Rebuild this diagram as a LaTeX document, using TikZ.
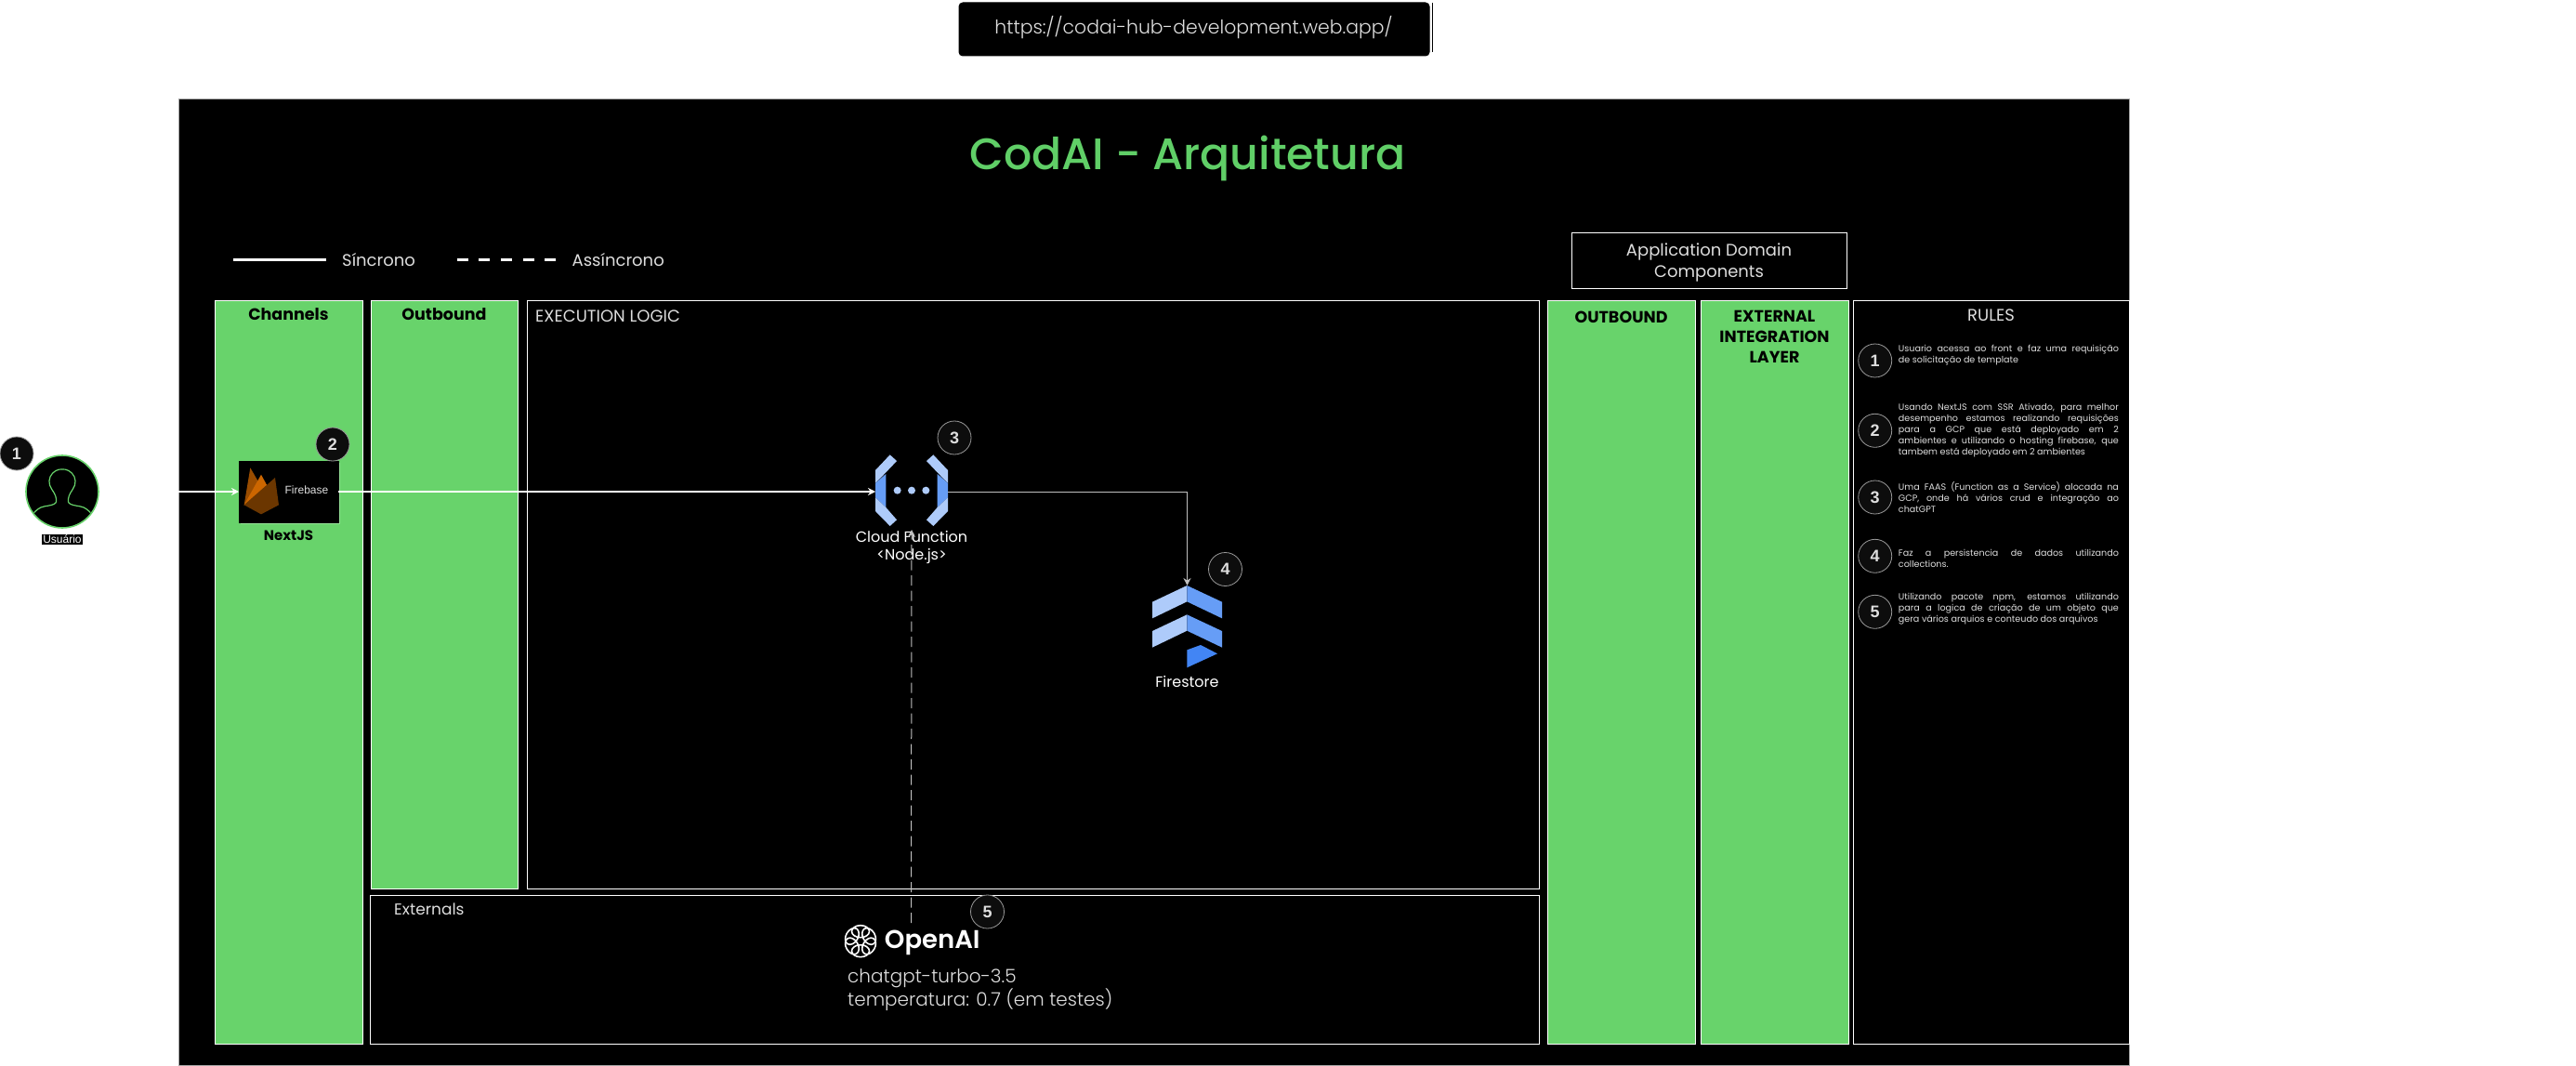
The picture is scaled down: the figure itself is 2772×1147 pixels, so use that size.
\documentclass[tikz,border=0pt]{standalone}
\usepackage{fontspec}
\setmainfont{Poppins}
\newfontfamily\poplight{Poppins Light}
\newfontfamily\popmed{Poppins Medium}
\newfontfamily\popsemi{Poppins SemiBold}
\newfontfamily\arialfont{Liberation Sans}
\usetikzlibrary{arrows.meta, positioning}
\definecolor{codgreen}{RGB}{104,211,107}
\definecolor{titlegreen}{RGB}{96,207,103}
\definecolor{softwhite}{RGB}{222,222,222}
\definecolor{badgefill}{RGB}{13,13,13}
\definecolor{gcplight}{RGB}{174,203,250}
\definecolor{gcpmid}{RGB}{102,157,246}
\definecolor{gcpdark}{RGB}{66,133,244}

\begin{document}
\begin{tikzpicture}[
    x=1pt, y=-1pt,
    % Styles
    greencol/.style={draw=white, line width=1pt, fill=codgreen, minimum width=#1, inner sep=0pt, outer sep=0pt, anchor=north west},
    blackbox/.style={draw=white, line width=1pt, fill=black, inner sep=0pt, outer sep=0pt, anchor=north west},
    collabel/.style={font=\fontsize{17.5}{22}\selectfont\bfseries, text=black, align=center, inner sep=0pt},
    boxlabel/.style={font=\fontsize{18}{23}\selectfont, text=softwhite, align=center, inner sep=0pt},
    badge/.style={circle, draw=gray!80, line width=0.8pt, fill=badgefill, minimum size=36pt, inner sep=0pt, text=softwhite, font=\arialfont\fontsize{18}{18}\selectfont\bfseries},
    rulenote/.style={font=\fontsize{9.6}{12}\selectfont, text=softwhite, text width=237pt, align=justify, inner sep=0pt},
    iconlabel/.style={font=\fontsize{16}{18.7}\selectfont, text=white, align=center, inner sep=0pt},
    legendlabel/.style={font=\fontsize{18}{20}\selectfont, text=softwhite, inner sep=0pt},
    flow/.style={draw=white, line width=1.2pt, -{Stealth[length=8pt, width=8pt]}},
    legendline/.style={draw=white, line width=3.5pt},
    icon/.style={inner sep=0pt, outer sep=0pt, minimum width=#1},
    zoomed/.style={x=0.33333pt, y=-0.33333pt}
]
    \useasboundingbox (0,0) rectangle (2772,1147);

    % Url bar and main panel
    \node[blackbox, draw=black, rounded corners=4pt, minimum width=506pt, minimum height=57pt] (urlbar) at (1032,3) {};
    \draw[black, line width=0.8pt] (1541.5,3) -- (1541.5,56);
    \node[font=\poplight\fontsize{20.4}{24}\selectfont, text=softwhite, inner sep=0pt] (urltext) at (1284.5,30) {https://codai-hub-development.web.app/};
    \node[blackbox, draw=gray!70, line width=0.6pt, minimum width=2099pt, minimum height=1039.5pt] (panel) at (192,106.5) {};
    \node[font=\popmed\fontsize{47.4}{50}\selectfont, text=titlegreen, inner sep=0pt] (title) at (1278,170) {CodAI - Arquitetura};

    % Legend
    \coordinate (syncstart) at (251,279.5);
    \coordinate[right=100pt of syncstart] (syncend);
    \draw[legendline] (syncstart) -- (syncend);
    \node[legendlabel, right=17pt of syncend] (synctext) {Síncrono};
    \coordinate (asyncstart) at (491.5,279.5);
    \coordinate[right=108pt of asyncstart] (asyncend);
    \draw[legendline, dash pattern=on 12pt off 11.7pt] (asyncstart) -- (asyncend);
    \node[legendlabel, right=16pt of asyncend] (asynctext) {Assíncrono};

    % Columns
    \node[greencol=159pt, minimum height=800pt] (channels) at (231,323.5) {};
    \node[greencol=158pt, minimum height=633pt, right=9pt of channels.north east, anchor=north west] (outbound) {};
    \node[blackbox, minimum width=1089pt, minimum height=633pt, right=10pt of outbound.north east, anchor=north west] (execution) {};
    \node[blackbox, minimum width=1258pt, minimum height=160pt] (externals) at (398,963) {};
    \node[greencol=159pt, minimum height=800pt] (outboundr) at (1665,323.5) {};
    \node[greencol=159pt, minimum height=800pt, right=6pt of outboundr.north east, anchor=north west] (integration) {};
    \node[blackbox, minimum width=297pt, minimum height=800pt, right=5pt of integration.north east, anchor=north west] (rules) {};
    \node[blackbox, minimum width=296pt, minimum height=60pt] (domain) at (1691,251) {};

    % Column titles
    \node[boxlabel, yshift=-1.5pt] (domaintext) at (domain.center) {Application Domain\\Components};
    \node[collabel, below=8pt of channels.north] (channelstext) {Channels};
    \node[collabel, below=8pt of outbound.north] (outboundtext) {Outbound};
    \node[boxlabel, anchor=north west] (executiontext) at (576,334) {EXECUTION LOGIC};
    \node[boxlabel, font=\fontsize{17}{20}\selectfont, anchor=north west] (externalstext) at (424,972) {Externals};
    \node[collabel, below=11pt of outboundr.north] (outboundrtext) {OUTBOUND};
    \node[collabel, below=11pt of integration.north] (integrationtext) {EXTERNAL\\INTEGRATION\\LAYER};
    \node[boxlabel, below=9pt of rules.north] (rulestext) {RULES};

    % User
    \node[circle, draw=codgreen, line width=1.6pt, fill=black, minimum size=78pt, inner sep=0pt] (usuario) at (67,529) {};
    \draw[codgreen, line width=1.2pt] plot[smooth, tension=0.7] coordinates {(36.7,551.7) (44,546) (58,542.5) (60.5,537) (58,530) (53.5,522) (54,513) (60,506.5) (67,505) (74,506.5) (80,513) (80.5,522) (76,530) (73.5,537) (76,542.5) (90,546) (97.3,551.7)};
    \node[font=\arialfont\fontsize{12}{13}\selectfont, text=white, fill=black, inner sep=1pt, below=6pt of usuario] (usuariotext) {Usuário};
    \node[badge] (badge1) at (18,488) {1};

    % Firebase
    \fill[codgreen!70!white] (259,498) rectangle (366,564);
    \node[blackbox, draw=black, minimum width=107pt, minimum height=66pt] (firebase) at (257,496) {};
    \begin{scope}[shift={(0,420)}, zoomed]
        \fill[orange!60!black] (788,370) -- (808,250) -- (860,340) -- cycle;
        \fill[orange!80!black] (788,370) -- (843,272) -- (880,340) -- cycle;
        \fill[orange!42!black] (788,370) -- (888,282) -- (900,370) -- (843,400) -- cycle;
    \end{scope}
    \node[font=\arialfont\fontsize{12}{13}\selectfont, text=softwhite, inner sep=0pt] (firebasetext) at (330,527.7) {Firebase};
    \node[collabel, font=\fontsize{15}{18}\selectfont\bfseries, below=9pt of firebase] (nextjs) {NextJS};
    \node[badge] (badge2) at (358,478) {2};

    % Cloud Function
    \node[icon=78pt, minimum height=82pt] (cloudfn) at (981,529) {};
    \begin{scope}[shift={(880,430)}, zoomed]
        \foreach \sx/\ox in {1/0, -1/606} {
            \fill[gcplight] ({\ox+\sx*233},178) -- ({\ox+\sx*255},198) -- ({\ox+\sx*220},235) -- ({\ox+\sx*186},270) -- ({\ox+\sx*186},228) -- cycle;
            \fill[gcpmid] ({\ox+\sx*220},240) -- ({\ox+\sx*220},348) -- ({\ox+\sx*186},316) -- ({\ox+\sx*186},270) -- cycle;
            \fill[gcplight] ({\ox+\sx*186},316) -- ({\ox+\sx*220},348) -- ({\ox+\sx*255},388) -- ({\ox+\sx*233},408) -- ({\ox+\sx*186},360) -- cycle;
        }
        \foreach \dotx in {257, 303, 349}
            \fill[gcplight] (\dotx,293) circle[radius=4pt];
    \end{scope}
    \node[iconlabel, anchor=north] (cloudtext) at (981,571) {Cloud Function\\<Node.js>};
    \node[badge] (badge3) at (1027,471) {3};

    % Firestore
    \node[icon=75pt, minimum height=88pt] (firestore) at (1277.5,674) {};
    \begin{scope}[shift={(880,430)}, zoomed]
        \foreach \dy in {0, 94} {
            \fill[gcplight] (1080,653+\dy) -- (1192,600+\dy) -- (1192,652+\dy) -- (1080,706+\dy) -- cycle;
            \fill[gcpmid] (1192,600+\dy) -- (1305,653+\dy) -- (1305,706+\dy) -- (1192,652+\dy) -- cycle;
        }
        \fill[gcpdark] (1192,808) -- (1236,792) -- (1290,820) -- (1192,865) -- cycle;
    \end{scope}
    \node[iconlabel, below=9.5pt of firestore] (firestoretext) {Firestore};
    \node[badge] (badge4) at (1318.5,612.5) {4};

    % OpenAI
    \node[icon=38pt, minimum height=38pt] (openai) at (926,1012.7) {};
    \foreach \ang in {0, 60, ..., 300}
        \draw[white, line width=1.6pt, rotate around={\ang:(openai.center)}] (926,1002.2) ellipse[x radius=9.5pt, y radius=6.5pt];
    \node[font=\popsemi\fontsize{27.5}{30}\selectfont, text=white, inner sep=0pt, anchor=west] (openaitext) at (951.7,1014.5) {OpenAI};
    \node[font=\poplight\fontsize{20}{25}\selectfont, text=softwhite, align=left, inner sep=0pt, anchor=north west] (modeltext) at (912,1042.5) {chatgpt-turbo-3.5\\temperatura: 0.7 (em testes)};
    \node[badge] (badge5) at (1062.5,981) {5};
    \coordinate (openaitop) at (980.5,993);

    % Rules
    \node[badge] (rule1) at (2017.7,388) {1};
    \node[badge] (rule2) at (2017.7,463.3) {2};
    \node[badge] (rule3) at (2017.7,535) {3};
    \node[badge] (rule4) at (2017.7,598.3) {4};
    \node[badge] (rule5) at (2017.7,658.3) {5};
    \node[rulenote, right=6.6pt of rule1, yshift=6.4pt] (note1) {Usuario acessa ao front e faz uma requisição\linebreak de solicitação de template};
    \node[rulenote, right=6.6pt of rule2] (note2) {Usando NextJS com SSR Ativado, para melhor\linebreak desempenho estamos realizando requisições\linebreak para a GCP que está deployado em 2\linebreak ambientes e utilizando o hosting firebase, que\linebreak tambem está deployado em 2 ambientes};
    \node[rulenote, right=6.6pt of rule3] (note3) {Uma FAAS (Function as a Service) alocada na\linebreak GCP, onde há vários crud e integração ao\linebreak chatGPT};
    \node[rulenote, right=6.6pt of rule4, yshift=-2.6pt] (note4) {Faz a persistencia de dados utilizando\linebreak collections.};
    \node[rulenote, right=6.6pt of rule5, yshift=3pt] (note5) {Utilizando pacote npm, estamos utilizando\linebreak para a logica de criação de um objeto que\linebreak gera vários arquios e conteudo dos arquivos};

    % Connectors
    \draw[flow] (usuario.east) -- (firebase.west);
    \draw[flow] (firebase.east) -- (cloudfn.west);
    \draw[flow, draw=white!75!black, line width=1pt] (cloudfn.east) -| (firestore.north);
    \draw[flow, draw=white!75!black, line width=1pt, dash pattern=on 11pt off 5.5pt] (openaitop) -- (cloudfn.south);
\end{tikzpicture}
\end{document}
